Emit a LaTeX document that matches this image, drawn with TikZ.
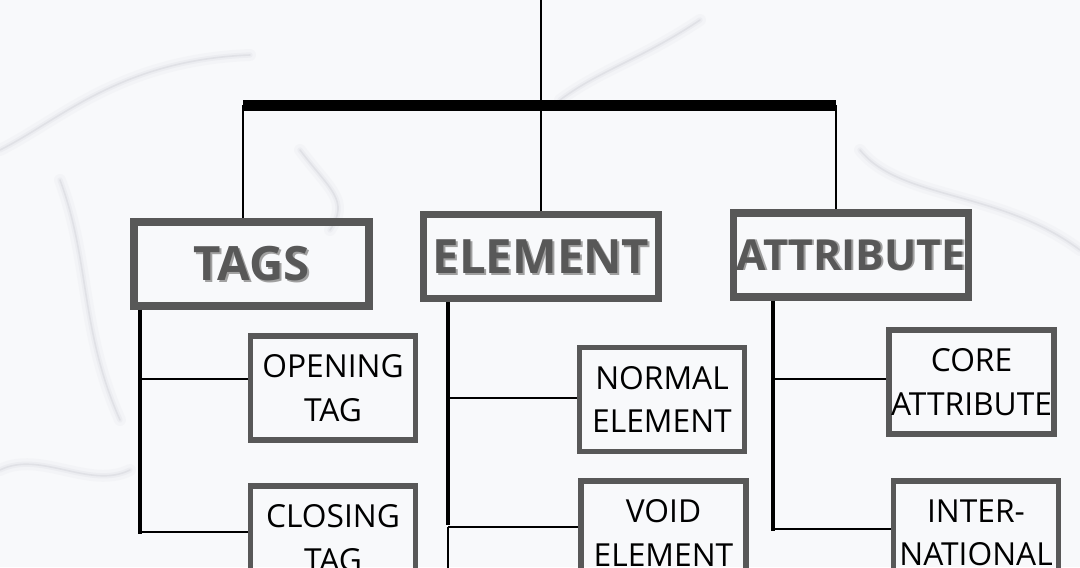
\documentclass[tikz,border=0pt]{standalone}
\usepackage{fontspec}
\setmainfont{Open Sans}
\usepackage{tikz}

\definecolor{boxgray}{RGB}{88,88,88}
\definecolor{shadegray}{RGB}{160,160,160}
\definecolor{marble}{RGB}{248,249,251}
\definecolor{vein}{RGB}{190,192,198}

\tikzset{
  head/.style={draw=boxgray, line width=5.6pt, minimum width=176pt, minimum height=63pt,
    inner sep=0pt, text=boxgray, font=\fontsize{35.5}{40}\selectfont\bfseries},
  headshade/.style={inner sep=0pt, text=shadegray, font=\fontsize{35.5}{40}\selectfont\bfseries},
  sub/.style={draw=boxgray, line width=4.1pt, minimum width=124pt, minimum height=78pt,
    inner sep=0pt, align=center, text=black, font=\fontsize{23.8}{32.5}\selectfont},
  veinline/.style={vein, line cap=round, line width=9pt, opacity=0.07,
    postaction={draw, vein, line width=4pt, opacity=0.12},
    postaction={draw, vein, line width=1.2pt, opacity=0.25}},
  wire/.style={line width=1.5pt},
  trunk/.style={line width=3pt},
  branch/.style={line width=1.9pt},
  bar/.style={line width=8.25pt}
}

\begin{document}
\begin{tikzpicture}[x=0.75pt, y=-0.75pt]
        \useasboundingbox (0,0) rectangle (1080,567);
        \clip (0,0) rectangle (1080,567);
        \fill[marble] (0,0) rectangle (1080,567);

        % faint marble veins
        \draw[veinline] (0,150) .. controls (60,120) and (120,60) .. (250,55);
        \draw[veinline] (60,180) .. controls (90,260) and (80,330) .. (120,420);
        \draw[veinline] (560,100) .. controls (600,70) and (640,60) .. (700,20);
        \draw[veinline] (300,150) .. controls (330,190) and (350,200) .. (330,230);
        \draw[veinline] (0,470) .. controls (40,450) and (90,490) .. (130,470);
        \draw[veinline] (860,150) .. controls (900,200) and (1000,190) .. (1080,250);

        % top level
        \node[headshade] at (253.5,266) {TAGS};
        \node[head] (tags) at (251.5,264) {TAGS};
        \node[headshade] at (543,258.5) {ELEMENT};
        \node[head] (element) at (541,256.5) {ELEMENT};
        \node[headshade, font=\fontsize{32}{38}\selectfont\bfseries] at (853,255) {ATTRIBUTE};
        \node[head, font=\fontsize{32}{38}\selectfont\bfseries] (attribute) at (851,255) {ATTRIBUTE};

        \coordinate (top) at (541,0);
        \coordinate (barL) at (243,105);
        \coordinate (barR) at (836,105);
        \draw[bar] (barL) -- (barR);
        \draw[wire] (top) -- (element.north);
        \draw[wire] (barL) -- (barL |- tags.north);
        \draw[wire] (barR) -- (barR |- attribute.north);

        % tags
        \node[sub] (opening) at (333,388) {OPENING\\TAG};
        \node[sub] (closing) at (333,538) {CLOSING\\TAG};
        \coordinate (tA) at (140,379);
        \coordinate (tB) at (140,532);
        \draw[trunk] (tags.south -| tA) -- ([yshift=-1.5pt]tB);
        \draw[branch] (tA) -- (tA -| opening.west);
        \draw[branch] (tB) -- (tB -| closing.west);

        % element
        \node[sub] (normal) at (662,399.5) {NORMAL\\ELEMENT};
        \node[sub] (void) at (663.5,533) {VOID\\ELEMENT};
        \coordinate (eA) at (448,398);
        \coordinate (eB) at (448,527);
        \coordinate (eC) at (448,570);
        \draw[trunk] (element.south -| eA) -- ([yshift=1.5pt]eB);
        \draw[branch] (eB) -- (eC);
        \draw[branch] (eA) -- (eA -| normal.west);
        \draw[branch] (eB) -- (eB -| void.west);

        % attribute
        \node[sub] (core) at (971.5,382) {CORE\\ATTRIBUTE};
        \node[sub] (inter) at (976,533) {INTER-\\NATIONAL};
        \coordinate (aA) at (773,379);
        \coordinate (aB) at (773,529);
        \draw[trunk] (attribute.south -| aA) -- ([yshift=-1.5pt]aB);
        \draw[branch] (aA) -- (aA -| core.west);
        \draw[branch] (aB) -- (aB -| inter.west);
      \end{tikzpicture}
\end{document}
